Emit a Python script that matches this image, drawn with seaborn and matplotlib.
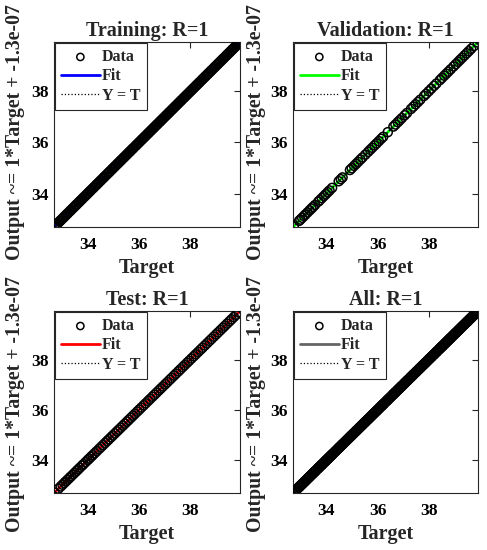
import numpy as np
import pandas as pd
import matplotlib
matplotlib.use('Agg')
import matplotlib.pyplot as plt
import seaborn as sns

# DATA (targets; outputs match targets, R=1)
train_target = [
    32.69, 32.73, 32.78, 32.82, 32.85, 32.91, 32.94, 32.99, 33.04, 33.07,
    33.12, 33.16, 33.21, 33.24, 33.30, 33.33, 33.37, 33.42, 33.46, 33.51,
    33.55, 33.58, 33.64, 33.68, 33.71, 33.77, 33.80, 33.85, 33.89, 33.94,
    33.98, 34.02, 34.07, 34.10, 34.15, 34.20, 34.23, 34.28, 34.33, 34.36,
    34.41, 34.45, 34.50, 34.53, 34.59, 34.62, 34.66, 34.71, 34.75, 34.80,
    34.84, 34.87, 34.93, 34.96, 35.01, 35.05, 35.09, 35.14, 35.18, 35.22,
    35.27, 35.30, 35.35, 35.40, 35.43, 35.48, 35.52, 35.56, 35.61, 35.65,
    35.69, 35.74, 35.77, 35.82, 35.87, 35.90, 35.95, 35.99, 36.03, 36.08,
    36.12, 36.16, 36.21, 36.24, 36.29, 36.34, 36.37, 36.42, 36.46, 36.50,
    36.55, 36.59, 36.63, 36.68, 36.71, 36.76, 36.81, 36.84, 36.89, 36.93,
    36.97, 37.02, 37.06, 37.10, 37.15, 37.18, 37.23, 37.28, 37.31, 37.36,
    37.40, 37.44, 37.49, 37.53, 37.57, 37.62, 37.65, 37.70, 37.75, 37.78,
    37.83, 37.87, 37.91, 37.96, 38.00, 38.04, 38.09, 38.12, 38.17, 38.22,
    38.25, 38.30, 38.34, 38.38, 38.43, 38.47, 38.51, 38.56, 38.59, 38.64,
    38.69, 38.72, 38.77, 38.81, 38.85, 38.90, 38.94, 38.98, 39.03, 39.06,
    39.11, 39.16, 39.19, 39.24, 39.28, 39.32, 39.37, 39.41, 39.45, 39.50,
    39.53, 39.58, 39.63, 39.66, 39.71, 39.75, 39.80, 39.84, 39.89, 39.93,
]
val_target = [
    32.72, 32.93, 32.98, 33.05, 33.12, 33.18, 33.26, 33.34, 33.41, 33.47,
    33.55, 33.68, 33.74, 33.82, 33.90, 33.97, 34.05, 34.12, 34.22, 34.48,
    34.56, 34.63, 34.92, 34.99, 35.08, 35.16, 35.24, 35.33, 35.41, 35.52,
    35.63, 35.71, 35.79, 35.88, 35.96, 36.05, 36.14, 36.22, 36.40, 36.62,
    36.70, 36.79, 36.87, 36.95, 37.06, 37.15, 37.31, 37.40, 37.49, 37.58,
    37.67, 37.82, 37.90, 38.00, 38.10, 38.21, 38.30, 38.44, 38.52, 38.61,
    38.69, 38.77, 38.86, 38.97, 39.06, 39.15, 39.23, 39.31, 39.40, 39.49,
    39.57, 39.66, 39.77, 39.91,
]
test_target = [
    32.71, 32.86, 32.95, 33.02, 33.09, 33.15, 33.22, 33.29, 33.35, 33.43,
    33.50, 33.57, 33.63, 33.70, 33.78, 33.84, 33.92, 34.00, 34.06, 34.13,
    34.19, 34.27, 34.35, 34.44, 34.52, 34.60, 34.68, 34.76, 34.83, 34.91,
    34.98, 35.06, 35.14, 35.21, 35.29, 35.37, 35.45, 35.53, 35.60, 35.68,
    35.76, 35.84, 35.93, 36.01, 36.09, 36.18, 36.26, 36.35, 36.43, 36.52,
    36.60, 36.68, 36.77, 36.85, 36.93, 37.02, 37.10, 37.19, 37.27, 37.36,
    37.44, 37.53, 37.61, 37.70, 37.78, 37.87, 37.95, 38.04, 38.13, 38.21,
    38.30, 38.39, 38.47, 38.56, 38.65, 38.74, 38.82, 38.91, 39.00, 39.08,
    39.17, 39.26, 39.34, 39.43, 39.52, 39.60, 39.69, 39.78, 39.88,
]
train_output = list(train_target)
val_output = list(val_target)
test_output = list(test_target)

titles = ['Training: R=1', 'Validation: R=1', 'Test: R=1', 'All: R=1']
fit_colors = ['#0000ff', '#00ff00', '#ff0000', '#666666']
fit_slope = 1.0
fit_offset = -1.3e-07
ylabel_text = 'Output ~= 1*Target + -1.3e-07'
ticks = [34, 36, 38]

# STYLE
sns.set_style('white')
plt.rcParams['font.family'] = ['Liberation Serif', 'DejaVu Serif']
plt.rcParams['font.weight'] = 'bold'
plt.rcParams['axes.labelweight'] = 'bold'
plt.rcParams['axes.titleweight'] = 'bold'

# Building one frame per panel
sets = [
    (train_target, train_output),
    (val_target, val_output),
    (test_target, test_output),
    (train_target + val_target + test_target,
     train_output + val_output + test_output),
]

fig = plt.figure(figsize=(4.87, 5.5), dpi=100)
rects = [
    [0.1109, 0.5873, 0.3819, 0.3364],
    [0.6016, 0.5873, 0.3799, 0.3364],
    [0.1109, 0.1036, 0.3819, 0.3309],
    [0.6016, 0.1036, 0.3799, 0.3309],
]
# ylabel anchor (axes fraction)
label_xy = [(-0.155, 0.515), (-0.148, 0.515), (-0.155, 0.49), (-0.148, 0.49)]

all_t = sets[3][0]
lo, hi = min(all_t), max(all_t)

for i, (t, y) in enumerate(sets):
    ax = fig.add_axes(rects[i])
    df = pd.DataFrame({'target': t, 'output': y})
    df = df.sort_values('target')
    df['fit'] = fit_slope * df['target'] + fit_offset

    # Fit line
    sns.lineplot(data=df, x='target', y='fit', ax=ax, color=fit_colors[i],
                 linewidth=2, label='Fit', estimator=None, sort=True, zorder=2)
    # Y = T line
    ax.plot([lo, hi], [lo, hi], color='black', linestyle=':', linewidth=0.9,
            label='Y = T', zorder=2)
    # Data circles
    sns.scatterplot(data=df, x='target', y='output', ax=ax, marker='o',
                    s=42, facecolor='none', edgecolor='black', linewidth=1.1,
                    label='Data', zorder=3)

    ax.set_xlim(lo, hi)
    ax.set_ylim(lo, hi)
    ax.set_xticks(ticks)
    ax.set_yticks(ticks)
    ax.tick_params(direction='in', length=4, width=0.8, top=True, right=True,
                   labelsize=12.5, colors='#262626', labelcolor='black')
    ax.tick_params(axis='x', pad=7)
    ax.tick_params(axis='y', pad=4)
    for sp in ax.spines.values():
        sp.set_color('#262626')
        sp.set_linewidth(0.8)

    ax.set_title(titles[i], fontsize=14.5, pad=4)
    ax.set_xlabel('Target', fontsize=14.5, labelpad=4)
    ax.set_ylabel(ylabel_text, fontsize=14.2)
    ax.yaxis.set_label_coords(*label_xy[i])

    h, l = ax.get_legend_handles_labels()
    order = [l.index('Data'), l.index('Fit'), l.index('Y = T')]
    leg = ax.legend([h[k] for k in order], [l[k] for k in order],
                    loc='upper left', fontsize=11.5, frameon=True,
                    fancybox=False, framealpha=1, edgecolor='#262626',
                    borderaxespad=0.05, handlelength=2.4, handletextpad=0.15,
                    labelspacing=0.2, borderpad=0.4, markerscale=0.8)
    leg.get_frame().set_linewidth(0.8)

fig.savefig('out.png', dpi=100)
